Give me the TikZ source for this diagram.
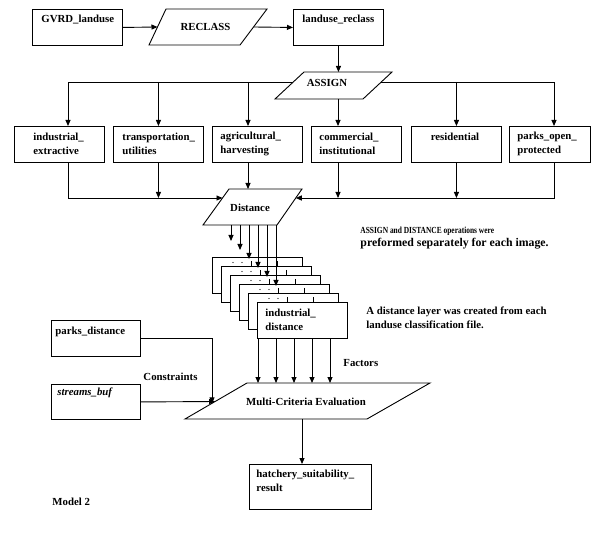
\documentclass[tikz,border=0pt]{standalone}
\usepackage{fontspec}
\setmainfont{Liberation Serif}
\newfontfamily\condfont[FakeStretch=0.8]{Liberation Serif}
\usetikzlibrary{arrows.meta,calc}
\begin{document}
\begin{tikzpicture}[x=1pt,y=-1pt,line width=0.9pt,
  box/.style={draw, fill=white, minimum height=36pt, minimum width=90pt, anchor=north west, inner sep=0pt},
  txt/.style={font=\bfseries\fontsize{10.8}{14}\selectfont, inner sep=0pt, align=left, anchor=west},
  arr/.style={-{Triangle[length=6pt,width=5pt]}},
  hid/.style={line width=0.9pt},
]
\useasboundingbox (0,0) rectangle (591,534);

% ---------- row 1
\node[box] (gvrd) at (32,9) {};
\node[txt] (gvrdT) at (41,20) {GVRD\_landuse};
\coordinate (recTL) at (166,9); \coordinate (recTR) at (267,9);
\coordinate (recBR) at (240,45); \coordinate (recBL) at (149,45);
\draw (recTL) -- (recTR) -- (recBR) -- (recBL) -- cycle;
\node[txt, anchor=center] (reclass) at (205.5,27) {RECLASS};
\node[box] (lrec) at (293,9) {};
\node[txt] (lrecT) at (302,20) {landuse\_reclass};
\draw[arr] (gvrd.east) -- ($(recTL)!0.5!(recBL)$);
\draw[arr] ($(recTR)!0.5!(recBR)$) -- (lrec.west);

% ---------- ASSIGN
\coordinate (asgTL) at (304,72); \coordinate (asgTR) at (392,72);
\coordinate (asgBR) at (363,99); \coordinate (asgBL) at (275,99);
\draw (asgTL) -- (asgTR) -- (asgBR) -- (asgBL) -- cycle;
\node[txt, anchor=center] (assign) at (327,83) {ASSIGN};
\coordinate (asgL) at ($(asgTL)!0.37!(asgBL)$);
\coordinate (asgR) at ($(asgTR)!0.37!(asgBR)$);
\draw[arr] (lrec.south) -- (lrec.south |- asgTL);

% ---------- row 2 boxes
\node[box] (ind) at (14,126) {};
\node[box] (trans) at (113,126) {};
\node[box] (agri) at (212,126) {};
\node[box] (comm) at (311,126) {};
\node[box] (res) at (411,126) {};
\node[box, minimum width=81pt] (parks) at (509,126) {};
\node[txt] (indT) at (33,144) {industrial\_\\extractive};
\node[txt] (transT) at (122,144) {transportation\_\\utilities};
\node[txt] (agriT) at (220,144) {agricultural\_\\harvesting};
\node[txt] (commT) at (319,144) {commercial\_\\institutional};
\node[txt, anchor=center] (resT) at (455,137) {residential};
\node[txt] (parksT) at (517,144) {parks\_open\_\\protected};

\path (ind.north west) ++(54,0) coordinate (indIn);
\path (ind.south west) ++(54,0) coordinate (indOut);
\path (agri.north west) ++(36,0) coordinate (agriIn);
\path (agri.south west) ++(36,0) coordinate (agriOut);
\path (comm.north west) ++(27,0) coordinate (commIn);
\path (comm.south west) ++(27,0) coordinate (commOut);
\path (parks.north west) ++(45,0) coordinate (parksIn);
\path (parks.south west) ++(45,0) coordinate (parksOut);

\draw[arr] (asgL) -| (indIn);
\draw[arr] (asgR) -| (parksIn);
\draw[arr] (trans.north |- asgL) -- (trans.north);
\draw[arr] (agriIn |- asgL) -- (agriIn);
\draw[arr] (commIn |- asgBL) -- (commIn);
\draw[arr] (res.north |- asgR) -- (res.north);

% ---------- Distance
\coordinate (dTL) at (229,189); \coordinate (dTR) at (302,189);
\coordinate (dBR) at (277,225); \coordinate (dBL) at (203,225);
\draw (dTL) -- (dTR) -- (dBR) -- (dBL) -- cycle;
\node[txt, anchor=center] (dist) at (250,208) {Distance};
\coordinate (dL) at ($(dTL)!0.25!(dBL)$);
\coordinate (dR) at ($(dTR)!0.25!(dBR)$);
\draw[arr] (indOut) |- (dL);
\draw[arr] (parksOut) |- (dR);
\draw[arr] (trans.south) -- (trans.south |- dL);
\draw[arr] (agriOut) -- (agriOut |- dTL);
\draw[arr] (commOut) -- (commOut |- dR);
\draw[arr] (res.south) -- (res.south |- dR);

% ---------- stacked distance layers
\foreach \i/\x/\y in {1/212/257,2/221/266,3/230/275,4/239/284,5/248/293}{
  \node[box] (s\i) at (\x,\y) {};
  \fill ($(s\i.north west)+(21,5.5)$) circle (0.7pt);
  \fill ($(s\i.north west)+(30,5.5)$) circle (0.7pt);
  \draw[hid] ($(s\i.north west)+(39,4)$) -- ++(0,5);
  \draw[hid] ($(s\i.north west)+(65,4)$) -- ++(0,5);
}
\node[box] (s6) at (257,302) {};
\node[txt] (s6T) at (265,319.5) {industrial\_\\distance};
\foreach \i/\x/\t in {1/231/241,2/240/250,3/249/259,4/258/268,5/267/277,6/276/286}{
  \coordinate (dd\i) at (\x,\t);
  \draw[arr] (dd\i |- dBL) -- (dd\i);
}

% ---------- MCE
\coordinate (mTL) at (247,383); \coordinate (mTR) at (430,383);
\coordinate (mBR) at (367,419); \coordinate (mBL) at (185,419);
\draw (mTL) -- (mTR) -- (mBR) -- (mBL) -- cycle;
\node[txt, anchor=center] (mce) at (306,402) {Multi-Criteria Evaluation};
\foreach \x in {258,276,294,312,330}{
  \coordinate (fo\x) at (\x,338);
  \draw[arr] (fo\x) -- (fo\x |- mTL);
}
\node[txt] (factors) at (343,363) {Factors};

\node[box, minimum width=89pt] (pd) at (51,320) {};
\node[txt] (pdT) at (55,332) {parks\_distance};
\node[box, minimum width=89pt, minimum height=35pt] (sb) at (51,384) {};
\node[txt] (sbT) at (57,393) {\itshape streams\_buf};
\node[txt] (constr) at (143,377) {Constraints};
\coordinate (mL1) at ($(mTL)!0.5645!(mBL)$);
\coordinate (mL2) at ($(mTL)!0.514!(mBL)$);
\draw[arr] ($(pd.north east)!0.5!(pd.south east)$) -| (mL1);
\draw[arr] (sb.east) -- (mL2);

% ---------- result
\node[box, minimum width=122pt, minimum height=45pt] (hat) at (249,464) {};
\node[txt] (hatT) at (256,480.5) {hatchery\_suitability\_\\result};
\draw[arr] (302,419) -- (302,464);

\node[txt] (model) at (52,502) {Model 2};

% ---------- notes
\node[txt, font=\condfont\bfseries\fontsize{9.3}{11}\selectfont] (n1) at (360,231) {ASSIGN and DISTANCE operations were};
\node[txt, font=\bfseries\fontsize{11.8}{14}\selectfont] (n2) at (360,244) {preformed separately for each image.};
\node[txt, align=left] (n3) at (366,318) {A distance layer was created from each\\landuse classification file.};
\end{tikzpicture}
\end{document}
